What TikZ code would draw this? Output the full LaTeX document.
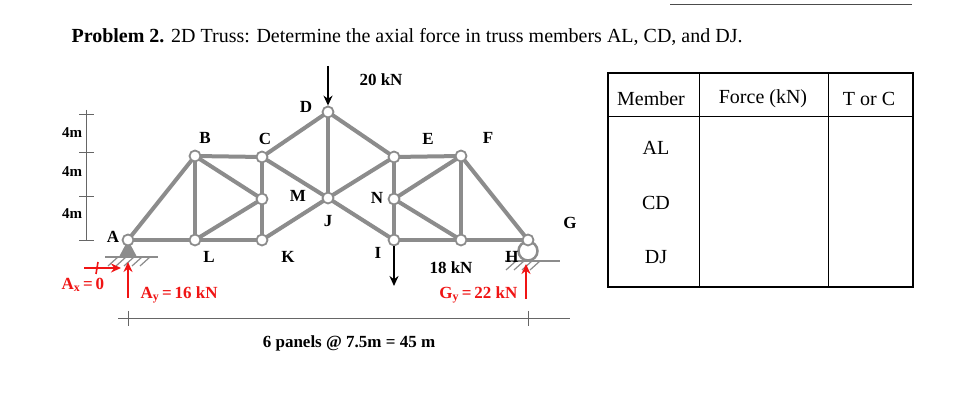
\documentclass[tikz,border=0pt]{standalone}
\usepackage{fontspec}
\setmainfont{Liberation Serif}
\usetikzlibrary{arrows.meta,patterns}
\definecolor{mem}{RGB}{140,140,140}
\definecolor{rd}{RGB}{240,20,20}
\tikzset{
 member/.style={draw=mem,line width=4pt},
 joint/.style={circle,draw=mem,fill=white,line width=1.8pt,minimum size=11pt,inner sep=0pt},
 lbl/.style={font=\bfseries\fontsize{17}{19}\selectfont},
 rlbl/.style={font=\bfseries\fontsize{17}{19}\selectfont,text=rd},
 load/.style={-{Stealth[length=10pt,width=9pt]},line width=2pt},
 rload/.style={-{Stealth[length=10pt,width=9pt]},line width=2pt,draw=rd},
 dim/.style={draw=black!60,line width=0.7pt},
 cell/.style={font=\fontsize{20}{22}\selectfont}
}
\begin{document}
\begin{tikzpicture}[x=1pt,y=-1pt]
\useasboundingbox[fill=white] (0,0) rectangle (975,411);
% top name line
\draw[black!70,line width=0.8pt] (670,4) -- (912,4);
\node[anchor=west,font=\fontsize{20}{24}\selectfont] (title) at (68,37) {\textbf{Problem 2.} 2D Truss: Determine the axial force in truss members AL, CD, and DJ.};
% coordinates
\coordinate (A) at (128,240); \coordinate (L) at (195,240); \coordinate (K) at (262,240);
\coordinate (I) at (394,240); \coordinate (H) at (461,240); \coordinate (G) at (528,240);
\coordinate (M) at (262,199); \coordinate (J) at (328,198); \coordinate (N) at (394,199);
\coordinate (B) at (195,156); \coordinate (C) at (262,157); \coordinate (E) at (394,157); \coordinate (F) at (461,156);
\coordinate (D) at (328,112);
% supports
\draw[mem,line width=1.5pt] (105,257) -- (158,257);
\foreach \x in {112,120,128,136,144} \draw[mem,line width=1.2pt] (\x+6,257) -- (\x-4,266);
\fill[mem] (A) -- (119,257) -- (137,257) -- cycle;
\draw[mem,line width=1.5pt] (505,261) -- (560,261);
\foreach \x in {510,518,526,534} \draw[mem,line width=1.2pt] (\x+6,261) -- (\x-4,270);
\draw[mem,line width=2.5pt,fill=white] (528,251) circle (9.5);
% members
\draw[member] (A) -- (L) -- (K); \draw[member] (I) -- (H) -- (G);
\draw[member] (A) -- (B) -- (C) -- (D) -- (E) -- (F) -- (G);
\draw[member] (B) -- (L); \draw[member] (C) -- (K); \draw[member] (D) -- (J); \draw[member] (E) -- (I); \draw[member] (F) -- (H);
\draw[member] (B) -- (M) -- (L); \draw[member] (C) -- (J) -- (K); \draw[member] (E) -- (J) -- (I);
\draw[member] (F) -- (N) -- (H);
\foreach \p in {A,L,K,I,H,G,M,J,N,B,C,E,F,D} \node[joint] (n\p) at (\p) {};
% labels
\node[lbl] at (113,237) {A}; \node[lbl] at (209,257) {L}; \node[lbl] at (288,257) {K};
\node[lbl] at (378,253) {I}; \node[lbl] at (512,257) {H}; \node[lbl] at (570,223) {G};
\node[lbl] at (205,138) {B}; \node[lbl] at (265,139) {C}; \node[lbl] at (306,107) {D};
\node[lbl] at (428,139) {E}; \node[lbl] at (488,138) {F}; \node[lbl] at (298,196) {M};
\node[lbl] at (377,198) {N}; \node[lbl] at (328,221) {J};
% loads
\coordinate (d0) at (328,66); \draw[load] (d0) -- (nD);
\node[lbl] at (381,80) {20 kN};
\coordinate (i1) at (394,286); \draw[load] (nI) -- (i1);
\node[lbl] at (451,268) {18 kN};
% reactions
\coordinate (ax0) at (84,268); \coordinate (ax1) at (121,268);
\draw[rload] (ax0) -- (ax1); \draw[rd,line width=1.6pt] (98,262) -- (96,274);
\node[rlbl,anchor=west] at (58,285) {A$_\mathbf{x}$\,=\,0};
\coordinate (ay0) at (128,298); \coordinate (ay1) at (128,262);
\draw[rload] (ay0) -- (ay1);
\node[rlbl,anchor=west] at (137,295) {A$_\mathbf{y}$\,=\,16 kN};
\coordinate (gy0) at (526,299); \coordinate (gy1) at (526,264);
\draw[rload] (gy0) -- (gy1);
\node[rlbl,anchor=east] at (521,295) {G$_\mathbf{y}$\,=\,22 kN};
% vertical dimension
\draw[dim] (86,110) -- (86,240);
\foreach \y in {114,152,196,240} \draw[dim] (79,\y) -- (94,\y);
\node[lbl,font=\bfseries\fontsize{15}{17}\selectfont] at (72,133) {4m};
\node[lbl,font=\bfseries\fontsize{15}{17}\selectfont] at (72,172) {4m};
\node[lbl,font=\bfseries\fontsize{15}{17}\selectfont] at (72,214) {4m};
% horizontal dimension
\draw[dim] (118,318) -- (570,318);
\draw[dim] (128,311) -- (128,326); \draw[dim] (528,311) -- (528,326);
\node[lbl] at (349,343) {6 panels @ 7.5m = 45 m};
% table
\draw[line width=2.2pt] (608,73) rectangle (913,287);
\draw[line width=1pt] (608,117) -- (913,117);
\draw[line width=1pt] (699,73) -- (699,287);
\draw[line width=1pt] (828,73) -- (828,287);
\node[cell] at (651,99) {Member}; \node[cell] at (763,99) {Force (kN)}; \node[cell] at (869,99) {T or C};
\node[cell] at (656,148) {AL}; \node[cell] at (656,203) {CD}; \node[cell] at (656,257) {DJ};
\end{tikzpicture}
\end{document}
